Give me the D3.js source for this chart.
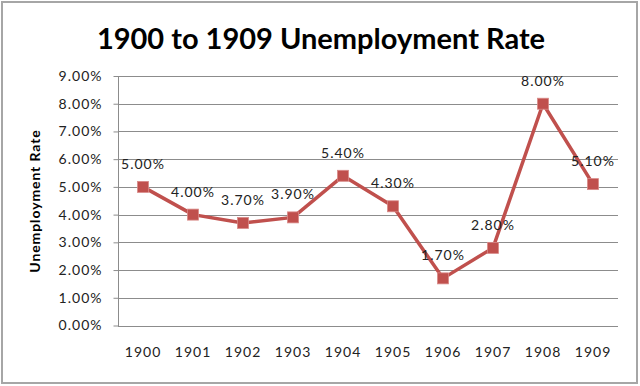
<!DOCTYPE html>
<html><head><meta charset="utf-8">
<script src="https://cdn.jsdelivr.net/npm/d3@7"></script>
<style>body{margin:0;background:#fff}svg{display:block}</style>
</head><body>
<svg id="c" width="640" height="386"></svg>
<script>
const years = ["1900","1901","1902","1903","1904","1905","1906","1907","1908","1909"];
const rates = [0.050,0.040,0.037,0.039,0.054,0.043,0.017,0.028,0.080,0.051];
const yTicks = [0,0.01,0.02,0.03,0.04,0.05,0.06,0.07,0.08,0.09];
const title = "1900 to 1909 Unemployment Rate";
const yTitle = "Unemployment Rate";

const svg = d3.select("#c");
const font = "Lato, 'Open Sans', sans-serif";
svg.append("rect").attr("x",2).attr("y",2).attr("width",635).attr("height",381)
  .attr("fill","#fff").attr("stroke","#a6a6a6").attr("stroke-width",2);

const x = d3.scaleBand().domain(years).range([118,618]);
const y = d3.scaleLinear().domain([0,0.09]).range([325.5,76]);
const fmt = d3.format(".2%");

svg.append("text").attr("x",321).attr("y",49).attr("text-anchor","middle")
  .attr("font-family",font).attr("font-weight","bold").attr("font-size",29).attr("fill","#000").text(title);

// gridlines
svg.append("g").selectAll("line").data(yTicks).join("line")
  .attr("x1",118).attr("x2",618).attr("y1",d=>Math.round(y(d))+0.5).attr("y2",d=>Math.round(y(d))+0.5)
  .attr("stroke","#8c8c8c").attr("stroke-width",1);

const ya = svg.append("g").attr("transform","translate(118.5,0)")
  .call(d3.axisLeft(y).tickValues(yTicks).tickFormat(fmt).tickSize(5).tickPadding(11));
ya.select(".domain").attr("stroke","#8c8c8c").attr("d","M0,"+y(0.09)+"V"+(y(0)+0.5));
ya.selectAll(".tick line").attr("stroke","#8c8c8c");
ya.selectAll("text").attr("font-family",font).attr("font-size",14).attr("letter-spacing",1).attr("fill","#222");

const xa = svg.append("g").attr("transform","translate(0,"+y(0)+")")
  .call(d3.axisBottom(x).tickSize(0).tickPadding(22));
xa.select(".domain").remove();
xa.selectAll("text").attr("font-family",font).attr("font-size",14).attr("letter-spacing",1).attr("fill","#222");

svg.append("text").attr("transform","translate(40,201) rotate(-90)").attr("text-anchor","middle")
  .attr("font-family",font).attr("font-weight","bold").attr("font-size",14).attr("letter-spacing",0.9).attr("fill","#000").text(yTitle);

const pts = years.map((yr,i)=>({yr,v:rates[i]}));
const cx = d=>x(d.yr)+x.bandwidth()/2;
svg.append("path").datum(pts).attr("fill","none").attr("stroke","#C0504D").attr("stroke-width",3.5)
  .attr("stroke-linejoin","round")
  .attr("d",d3.line().x(cx).y(d=>y(d.v)));
svg.append("g").selectAll("rect").data(pts).join("rect")
  .attr("x",d=>cx(d)-5.5).attr("y",d=>y(d.v)-5.5).attr("width",11).attr("height",11)
  .attr("fill","#C0504D").attr("stroke","#d88a88").attr("stroke-width",0.8);
svg.append("g").selectAll("text").data(pts).join("text")
  .attr("x",d=>cx(d)).attr("y",d=>y(d.v)-18).attr("text-anchor","middle")
  .attr("font-family",font).attr("font-size",14).attr("letter-spacing",1).attr("fill","#222").text(d=>fmt(d.v));
</script>
</body></html>
